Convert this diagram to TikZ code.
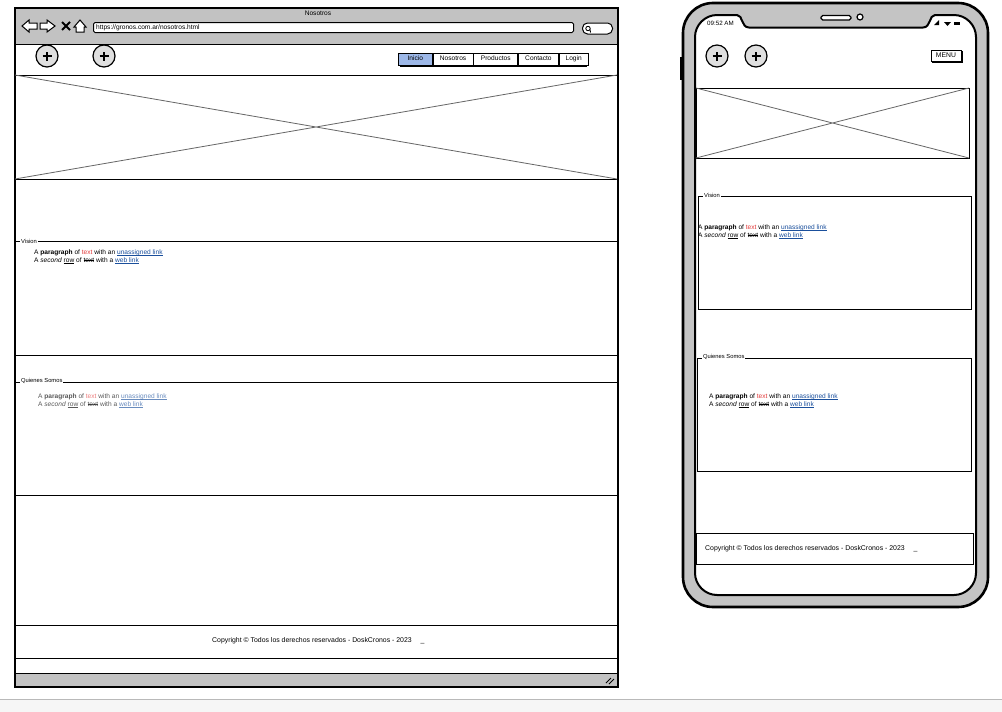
\documentclass[tikz,border=0pt]{standalone}
\usepackage{fontspec}
\setmainfont{Liberation Sans}
\definecolor{chrome}{HTML}{C2C2C2}
\definecolor{phonegray}{HTML}{C4C4C4}
\definecolor{linkblue}{HTML}{1A4F9C}
\definecolor{navblue}{HTML}{9DB8E8}
\definecolor{redtext}{HTML}{E23B3B}
\definecolor{crossgray}{HTML}{666666}
\newsavebox\mystrikebox
\newcommand\mystrike[1]{\sbox\mystrikebox{#1}\rlap{\raisebox{0.5ex}{\rule{\wd\mystrikebox}{0.5pt}}}\usebox\mystrikebox}
\newcommand\myul[1]{\sbox\mystrikebox{#1}\rlap{\rule[-1.3pt]{\wd\mystrikebox}{0.5pt}}\usebox\mystrikebox}
\newcommand\paralines{A \textbf{paragraph} of \textcolor{redtext}{text} with an \textcolor{linkblue}{\myul{unassigned link}}\\A \textit{second} \myul{row} of \mystrike{text} with a \textcolor{linkblue}{\myul{web link}}}
\newcommand\copyline{Copyright \textcopyright{} Todos los derechos reservados - DoskCronos - 2023\hspace{9pt}\_}
\begin{document}
\begin{tikzpicture}[x=1pt,y=-1pt,
  txt/.style={font=\fontsize{5.8}{7.5}\selectfont, inner sep=0pt},
  para/.style={font=\fontsize{6.6}{8}\selectfont, inner sep=0pt, align=left, anchor=north west},
  grouplabel/.style={txt, fill=white, inner xsep=1pt, anchor=west},
  navbtn/.style={draw, line width=0.7, minimum height=12pt, inner sep=0pt, text height=4.6pt, text depth=1.3pt, anchor=west, font=\fontsize{6.6}{7}\selectfont},
  pluscirc/.style={circle, draw, line width=1.2, fill=gray!25, minimum size=22pt, inner sep=0pt},
  box/.style={draw, line width=0.9},
  foot/.style={font=\fontsize{6.9}{8}\selectfont, inner sep=0pt}]
\useasboundingbox (0,0) rectangle (1002,712);
\fill[white] (0,0) rectangle (1002,712);
\fill[gray!7] (0,699) rectangle (1002,712);
\draw[gray!55] (0,699) -- (1002,699);

% ---------------- Browser window ----------------
\fill[white] (15,8) rectangle (618,687);
\fill[chrome] (15,8) rectangle (618,44);
\fill[chrome] (15,673) rectangle (618,687);
\draw[line width=0.9] (15,44) -- (618,44);
\draw[line width=0.9] (15,673) -- (618,673);
\draw[line width=1.4] (15,8) rectangle (618,687);
\node[txt, font=\fontsize{6.6}{7}\selectfont] (title) at (318,13.5) {Nosotros};
% nav icons
\draw[line width=1, fill=white] (22,26) -- (29,20) -- (29,23) -- (37,23) -- (37,29) -- (29,29) -- (29,32) -- cycle;
\draw[line width=1, fill=white] (40,23) -- (47,23) -- (47,20) -- (55,26) -- (47,32) -- (47,29) -- (40,29) -- cycle;
\draw[line width=2] (62,22) -- (70,30) (70,22) -- (62,30);
\draw[line width=1, fill=white] (74,27) -- (80,20) -- (86,27) -- (84,27) -- (84,32) -- (76,32) -- (76,27) -- cycle;
\node[draw, line width=1, fill=white, rounded corners=1.5, minimum width=480pt, minimum height=10pt, inner sep=0pt, anchor=north west] (url) at (93,22) {};
\node[txt, anchor=west, font=\fontsize{6.6}{7}\selectfont] at ([xshift=3pt]url.west) {https://gronos.com.ar/nosotros.html};
\node[draw, line width=1, fill=white, rounded corners=5, minimum width=30pt, minimum height=11pt, inner sep=0pt, anchor=north west] (search) at (582,22.5) {};
\draw[line width=0.9] ([xshift=6pt]search.west) circle (2.2);
\draw[line width=0.9] ([xshift=8pt,yshift=-1pt]search.west) -- ++(0.5,3);

% plus circles
\node[pluscirc] (p1) at (47,56) {};
\node[pluscirc] (p2) at (104,56) {};
\foreach \p in {p1,p2} {\draw[line width=2] ([xshift=-4.5pt]\p.center) -- ([xshift=4.5pt]\p.center) ([yshift=-4.5pt]\p.center) -- ([yshift=4.5pt]\p.center);}

% nav menu
\fill[black] (400,54) rectangle (586.5,67);
\node[navbtn, fill=navblue, minimum width=34pt] (inicio) at (398,59) {Inicio};
\node[navbtn, fill=white, minimum width=40pt] (nos) at (inicio.east) {Nosotros};
\node[navbtn, fill=white, minimum width=44pt] (prod) at (nos.east) {Productos};
\node[navbtn, fill=white, minimum width=40pt] (cont) at (prod.east) {Contacto};
\node[navbtn, fill=white, minimum width=29pt] (login) at (cont.east) {Login};

% hero image
\draw[box] (15,75) rectangle (617,179);
\draw[crossgray, line width=0.8] (15,75) -- (617,179) (15,179) -- (617,75);

% Vision
\draw[box] (15,241) rectangle (617,355);
\node[grouplabel] (vlabel) at (20,241) {Vision};
\node[para] (vtext) at (34,249.5) {\paralines};

% Quienes Somos
\draw[box] (15,382) rectangle (617,495);
\node[grouplabel] (qlabel) at (20,381) {Quienes Somos};
\node[para, opacity=0.65, text opacity=0.65] (qtext) at (38,393.5) {\paralines};

% footer
\draw[box] (15,625) rectangle (617,658);
\node[foot, anchor=west] (footer) at (212,640.5) {\copyline};

% resize grip
\draw[line width=0.8] (606,683) -- (611,678) (609,684) -- (614,679);

% ---------------- Phone ----------------
\fill[black] (679.5,57) rectangle (684,80);
\draw[line width=2.6, fill=phonegray, rounded corners=30] (683,3) rectangle (988,607);
\draw[line width=2, fill=white] (695,37) .. controls (695,25) and (705,15) .. (717,15) -- (737,15) .. controls (743,15) and (741,27.5) .. (749,27.5) -- (923,27.5) .. controls (931,27.5) and (929,15) .. (935,15) -- (954,15) .. controls (966,15) and (976,25) .. (976,37) -- (976,573) .. controls (976,585) and (966,595) .. (954,595) -- (717,595) .. controls (705,595) and (695,585) .. (695,573) -- cycle;
\draw[line width=1.2, fill=white, rounded corners=1.8] (821,15.5) rectangle (851,20);
\draw[line width=1.2, fill=white] (860,17) circle (3);
\node[txt, anchor=west, font=\fontsize{6.2}{7}\selectfont] (time) at (707,23) {09:52 AM};
\fill (934,25) -- (939,20) -- (939,25) -- cycle;
\fill (944,22) -- (951,22) -- (947.5,26) -- cycle;
\fill (954,21.5) rectangle (960,25);

\node[pluscirc] (q1) at (717,56) {};
\node[pluscirc] (q2) at (756,56) {};
\foreach \p in {q1,q2} {\draw[line width=2] ([xshift=-4.5pt]\p.center) -- ([xshift=4.5pt]\p.center) ([yshift=-4.5pt]\p.center) -- ([yshift=4.5pt]\p.center);}

\fill[black] (932,51) rectangle (963,63);
\node[draw, line width=0.8, fill=white, minimum width=30pt, minimum height=11pt, inner sep=0pt, anchor=north west, font=\fontsize{6.8}{7}\selectfont] (menu) at (930.5,49.5) {MENU};

% phone image
\draw[box] (696,88) rectangle (969,158);
\draw[crossgray, line width=0.8] (696,88) -- (969,158) (696,158) -- (969,88);

% phone Vision
\draw[box] (698,196) rectangle (971,309);
\node[grouplabel] (pvlabel) at (703,195) {Vision};
\node[para] (pvtext) at (698,224.5) {\paralines};

% phone Quienes Somos
\draw[box] (697,358) rectangle (971,471);
\node[grouplabel] (pqlabel) at (702,357) {Quienes Somos};
\node[para] (pqtext) at (709,393.5) {\paralines};

% phone footer
\draw[box] (696,533) rectangle (973,564);
\node[foot, anchor=west] (pfooter) at (705,548.5) {\copyline};
\end{tikzpicture}
\end{document}
